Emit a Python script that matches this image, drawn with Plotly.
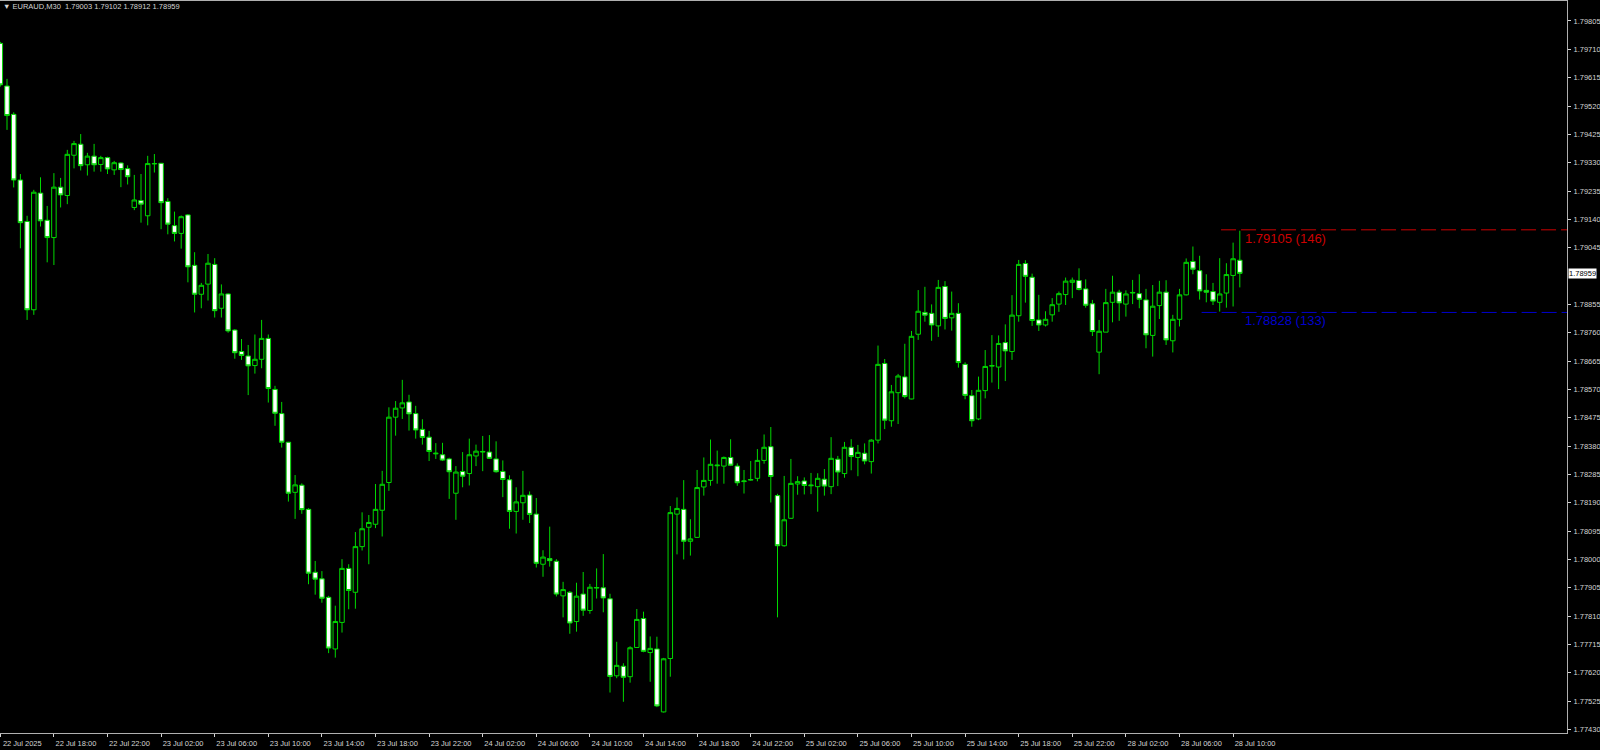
import plotly.graph_objects as go

# ---------------- data (EURAUD M30) ----------------
opens = [
    1.79730, 1.79587, 1.79492, 1.79272, 1.79133, 1.78837, 1.79228, 1.79137, 1.79079, 1.79248,
    1.79220, 1.79355, 1.79392, 1.79323, 1.79352, 1.79324, 1.79347, 1.79306, 1.79329, 1.79310,
    1.79180, 1.79203, 1.79152, 1.79326, 1.79328, 1.79200, 1.79119, 1.79093, 1.79155, 1.78986,
    1.78889, 1.78923, 1.78989, 1.78842, 1.78890, 1.78769, 1.78697, 1.78682, 1.78650, 1.78671,
    1.78741, 1.78570, 1.78489, 1.78393, 1.78225, 1.78249, 1.78168, 1.77957, 1.77935, 1.77873,
    1.77700, 1.77789, 1.77970, 1.77890, 1.78043, 1.78108, 1.78118, 1.78165, 1.78258, 1.78477,
    1.78508, 1.78528, 1.78489, 1.78436, 1.78410, 1.78354, 1.78351, 1.78337, 1.78222, 1.78295,
    1.78288, 1.78347, 1.78360, 1.78360, 1.78337, 1.78295, 1.78267, 1.78161, 1.78190, 1.78216,
    1.78152, 1.77984, 1.78003, 1.77994, 1.77878, 1.77890, 1.77792, 1.77884, 1.77829, 1.77904,
    1.77905, 1.77868, 1.77610, 1.77642, 1.77607, 1.77705, 1.77802, 1.77688, 1.77700, 1.77489,
    1.77668, 1.78152, 1.78168, 1.78061, 1.78074, 1.78243, 1.78265, 1.78314, 1.78313, 1.78342,
    1.78313, 1.78261, 1.78266, 1.78272, 1.78332, 1.78378, 1.78214, 1.78046, 1.78138, 1.78253,
    1.78263, 1.78247, 1.78244, 1.78269, 1.78244, 1.78336, 1.78288, 1.78376, 1.78342, 1.78356,
    1.78328, 1.78400, 1.78657, 1.78465, 1.78559, 1.78612, 1.78538, 1.78755, 1.78828, 1.78825,
    1.78783, 1.78915, 1.78810, 1.78825, 1.78654, 1.78549, 1.78471, 1.78566, 1.78648, 1.78645,
    1.78727, 1.78697, 1.78817, 1.78992, 1.78946, 1.78803, 1.78786, 1.78820, 1.78856, 1.78888,
    1.78929, 1.78935, 1.78907, 1.78857, 1.78695, 1.78762, 1.78862, 1.78896, 1.78856, 1.78893,
    1.78891, 1.78870, 1.78751, 1.78851, 1.78896, 1.78733, 1.78805, 1.78887, 1.78999, 1.78968,
    1.78902, 1.78898, 1.78862, 1.78893, 1.78952, 1.79003,
]
highs = [
    1.79735, 1.79611, 1.79499, 1.79292, 1.79152, 1.79239, 1.79281, 1.79185, 1.79295, 1.79279,
    1.79373, 1.79403, 1.79426, 1.79363, 1.79393, 1.79353, 1.79350, 1.79336, 1.79331, 1.79321,
    1.79289, 1.79292, 1.79353, 1.79359, 1.79329, 1.79211, 1.79166, 1.79153, 1.79158, 1.79030,
    1.78927, 1.79024, 1.79010, 1.78922, 1.78892, 1.78772, 1.78739, 1.78719, 1.78754, 1.78803,
    1.78754, 1.78582, 1.78528, 1.78394, 1.78283, 1.78255, 1.78172, 1.77995, 1.77961, 1.77878,
    1.77845, 1.78001, 1.77984, 1.78092, 1.78158, 1.78149, 1.78253, 1.78297, 1.78510, 1.78531,
    1.78602, 1.78552, 1.78515, 1.78470, 1.78431, 1.78390, 1.78391, 1.78341, 1.78313, 1.78360,
    1.78405, 1.78385, 1.78414, 1.78417, 1.78396, 1.78332, 1.78282, 1.78242, 1.78297, 1.78228,
    1.78206, 1.78031, 1.78110, 1.78001, 1.77925, 1.77894, 1.77922, 1.77958, 1.77918, 1.77970,
    1.78018, 1.77885, 1.77724, 1.77652, 1.77709, 1.77834, 1.77825, 1.77742, 1.77741, 1.77670,
    1.78179, 1.78208, 1.78266, 1.78135, 1.78300, 1.78342, 1.78402, 1.78365, 1.78345, 1.78403,
    1.78322, 1.78300, 1.78330, 1.78370, 1.78419, 1.78444, 1.78220, 1.78280, 1.78337, 1.78279,
    1.78275, 1.78290, 1.78289, 1.78303, 1.78410, 1.78347, 1.78394, 1.78403, 1.78384, 1.78389,
    1.78403, 1.78717, 1.78672, 1.78585, 1.78622, 1.78723, 1.78766, 1.78903, 1.78914, 1.78855,
    1.78937, 1.78933, 1.78898, 1.78859, 1.78661, 1.78568, 1.78613, 1.78702, 1.78752, 1.78751,
    1.78788, 1.78886, 1.79004, 1.79003, 1.78958, 1.78887, 1.78832, 1.78876, 1.78898, 1.78945,
    1.78945, 1.78976, 1.78939, 1.78870, 1.78803, 1.78907, 1.78951, 1.78904, 1.78902, 1.78937,
    1.78956, 1.78907, 1.78920, 1.78934, 1.78936, 1.78820, 1.78907, 1.79009, 1.79049, 1.79018,
    1.78956, 1.78927, 1.79010, 1.78993, 1.79062, 1.79102,
]
lows = [
    1.79585, 1.79440, 1.79247, 1.79043, 1.78803, 1.78820, 1.79116, 1.78996, 1.78987, 1.79180,
    1.79191, 1.79311, 1.79304, 1.79287, 1.79300, 1.79300, 1.79292, 1.79289, 1.79248, 1.79257,
    1.79171, 1.79129, 1.79120, 1.79297, 1.79107, 1.79090, 1.79066, 1.79042, 1.78929, 1.78828,
    1.78842, 1.78868, 1.78811, 1.78811, 1.78760, 1.78673, 1.78669, 1.78551, 1.78623, 1.78641,
    1.78526, 1.78448, 1.78375, 1.78194, 1.78136, 1.78153, 1.77917, 1.77882, 1.77855, 1.77686,
    1.77671, 1.77755, 1.77833, 1.77835, 1.78030, 1.77984, 1.78105, 1.78077, 1.78230, 1.78415,
    1.78471, 1.78432, 1.78405, 1.78385, 1.78330, 1.78337, 1.78330, 1.78203, 1.78133, 1.78242,
    1.78248, 1.78313, 1.78296, 1.78337, 1.78291, 1.78209, 1.78103, 1.78087, 1.78133, 1.78122,
    1.77973, 1.77942, 1.77976, 1.77876, 1.77806, 1.77751, 1.77758, 1.77811, 1.77818, 1.77869,
    1.77823, 1.77554, 1.77602, 1.77523, 1.77587, 1.77704, 1.77689, 1.77590, 1.77505, 1.77487,
    1.77607, 1.78017, 1.78000, 1.78013, 1.78073, 1.78214, 1.78247, 1.78254, 1.78254, 1.78313,
    1.78247, 1.78221, 1.78264, 1.78262, 1.78321, 1.78191, 1.77806, 1.78043, 1.78136, 1.78217,
    1.78218, 1.78219, 1.78160, 1.78214, 1.78219, 1.78246, 1.78274, 1.78299, 1.78279, 1.78319,
    1.78288, 1.78389, 1.78437, 1.78445, 1.78454, 1.78540, 1.78537, 1.78736, 1.78797, 1.78733,
    1.78746, 1.78771, 1.78767, 1.78643, 1.78537, 1.78445, 1.78467, 1.78540, 1.78593, 1.78571,
    1.78598, 1.78669, 1.78797, 1.78861, 1.78783, 1.78766, 1.78781, 1.78797, 1.78830, 1.78853,
    1.78876, 1.78902, 1.78844, 1.78749, 1.78621, 1.78762, 1.78795, 1.78800, 1.78814, 1.78856,
    1.78842, 1.78708, 1.78680, 1.78806, 1.78719, 1.78694, 1.78781, 1.78885, 1.78956, 1.78871,
    1.78862, 1.78853, 1.78831, 1.78844, 1.78848, 1.78912,
]
closes = [
    1.79591, 1.79488, 1.79272, 1.79129, 1.78837, 1.79231, 1.79135, 1.79079, 1.79248, 1.79222,
    1.79358, 1.79394, 1.79320, 1.79352, 1.79323, 1.79347, 1.79309, 1.79330, 1.79307, 1.79283,
    1.79205, 1.79191, 1.79327, 1.79327, 1.79196, 1.79124, 1.79093, 1.79149, 1.78981, 1.78889,
    1.78919, 1.78993, 1.78834, 1.78890, 1.78766, 1.78693, 1.78684, 1.78649, 1.78671, 1.78741,
    1.78573, 1.78490, 1.78393, 1.78222, 1.78250, 1.78167, 1.77954, 1.77934, 1.77870, 1.77703,
    1.77792, 1.77970, 1.77896, 1.78043, 1.78103, 1.78124, 1.78168, 1.78252, 1.78477, 1.78507,
    1.78525, 1.78488, 1.78434, 1.78409, 1.78362, 1.78356, 1.78333, 1.78294, 1.78293, 1.78279,
    1.78351, 1.78363, 1.78362, 1.78339, 1.78294, 1.78268, 1.78161, 1.78193, 1.78215, 1.78151,
    1.77987, 1.78008, 1.77996, 1.77884, 1.77899, 1.77787, 1.77877, 1.77830, 1.77907, 1.77906,
    1.77871, 1.77608, 1.77645, 1.77605, 1.77704, 1.77799, 1.77692, 1.77702, 1.77509, 1.77667,
    1.78157, 1.78171, 1.78061, 1.78069, 1.78241, 1.78265, 1.78319, 1.78316, 1.78342, 1.78316,
    1.78257, 1.78263, 1.78268, 1.78332, 1.78376, 1.78278, 1.78046, 1.78133, 1.78255, 1.78261,
    1.78248, 1.78249, 1.78272, 1.78246, 1.78339, 1.78293, 1.78376, 1.78345, 1.78359, 1.78330,
    1.78400, 1.78654, 1.78467, 1.78562, 1.78615, 1.78546, 1.78748, 1.78832, 1.78819, 1.78786,
    1.78912, 1.78808, 1.78825, 1.78660, 1.78550, 1.78465, 1.78567, 1.78647, 1.78650, 1.78724,
    1.78699, 1.78819, 1.78989, 1.78949, 1.78801, 1.78786, 1.78805, 1.78854, 1.78891, 1.78933,
    1.78936, 1.78905, 1.78852, 1.78764, 1.78765, 1.78861, 1.78896, 1.78860, 1.78890, 1.78895,
    1.78872, 1.78753, 1.78849, 1.78896, 1.78736, 1.78805, 1.78887, 1.78996, 1.78973, 1.78900,
    1.78896, 1.78866, 1.78890, 1.78955, 1.79008, 1.78959,
]

time_labels = [
    "22 Jul 2025", "22 Jul 18:00", "22 Jul 22:00", "23 Jul 02:00", "23 Jul 06:00",
    "23 Jul 10:00", "23 Jul 14:00", "23 Jul 18:00", "23 Jul 22:00", "24 Jul 02:00",
    "24 Jul 06:00", "24 Jul 10:00", "24 Jul 14:00", "24 Jul 18:00", "24 Jul 22:00",
    "25 Jul 02:00", "25 Jul 06:00", "25 Jul 10:00", "25 Jul 14:00", "25 Jul 18:00",
    "25 Jul 22:00", "28 Jul 02:00", "28 Jul 06:00", "28 Jul 10:00",
]
bars_per_time_label = 8

price_tick_labels = [
    "1.79805", "1.79710", "1.79615", "1.79520", "1.79425", "1.79330", "1.79235",
    "1.79140", "1.79045", "1.78855", "1.78760", "1.78665", "1.78570", "1.78475",
    "1.78380", "1.78285", "1.78190", "1.78095", "1.78000", "1.77905", "1.77810",
    "1.77715", "1.77620", "1.77525", "1.77430",
]

symbol_text = "EURAUD,M30"
last_ohlc = ["1.79003", "1.79102", "1.78912", "1.78959"]
current_price = 1.78959

level_values = [1.79105, 1.78828]
level_texts = ["1.79105 (146)", "1.78828 (133)"]
level_start_bars = [182.2, 179.3]

# ---------------- layout constants ----------------
W, H = 1600, 750
M_L, M_R, M_T, M_B = 0, 33, 1, 17
PX_PER_BAR = 6.7
plot_w = W - M_L - M_R
x0 = -0.045
x_range = [x0, x0 + plot_w / PX_PER_BAR]
y_range = [1.774183, 1.798720]

FG = "#d4d4d4"
FRAME = "#b0b0b0"
CANDLE = "#00d800"
LEVEL_COLORS = ["#cc0000", "#0000cc"]
FONT = "Liberation Sans"

bars = list(range(len(opens)))

fig = go.Figure()
fig.add_trace(go.Candlestick(
    x=bars, open=opens, high=highs, low=lows, close=closes,
    increasing=dict(line=dict(color=CANDLE, width=1), fillcolor="#000000"),
    decreasing=dict(line=dict(color=CANDLE, width=1), fillcolor="#ffffff"),
    whiskerwidth=0, hoverinfo="skip", showlegend=False,
))

for val, start, col in zip(level_values, level_start_bars, LEVEL_COLORS):
    fig.add_trace(go.Scatter(
        x=[start, x_range[1] + 5], y=[val, val], mode="lines",
        line=dict(color=col, width=1, dash="15px,5px"),
        hoverinfo="skip", showlegend=False,
    ))

annotations = []
for val, txt, col in zip(level_values, level_texts, LEVEL_COLORS):
    annotations.append(dict(
        x=185.5, y=val, xref="x", yref="y", text=txt, showarrow=False,
        xanchor="left", yanchor="top", yshift=1,
        font=dict(family=FONT, size=13, color=col),
    ))

annotations.append(dict(
    x=0, y=1, xref="paper", yref="paper", xanchor="left", yanchor="top",
    xshift=1, yshift=1,
    text="▼ " + symbol_text + "&nbsp;&nbsp;" + " ".join(last_ohlc),
    showarrow=False, font=dict(family=FONT, size=7.5, color=FG),
))

annotations.append(dict(
    x=1, y=current_price, xref="paper", yref="y", xanchor="left", yanchor="middle",
    xshift=1, text=f"{current_price:.5f}", showarrow=False,
    bgcolor="#ffffff", borderpad=0,
    font=dict(family=FONT, size=7.5, color="#000000"),
))

fig.update_layout(
    width=W, height=H,
    margin=dict(l=M_L, r=M_R, t=M_T, b=M_B),
    paper_bgcolor="#000000", plot_bgcolor="#000000",
    boxgap=0.33, boxgroupgap=0,
    showlegend=False,
    annotations=annotations,
    xaxis=dict(
        range=x_range, rangeslider=dict(visible=False),
        showgrid=False, zeroline=False,
        showline=True, linecolor=FRAME, linewidth=1, mirror=True,
        tickmode="array",
        tickvals=[i * bars_per_time_label for i in range(len(time_labels))],
        ticktext=time_labels,
        ticks="outside", ticklen=3, tickcolor=FG, tickwidth=1,
        ticklabelshift=22, ticklabelstandoff=0,
        tickfont=dict(family=FONT, size=7.5, color=FG),
        tickangle=0, fixedrange=True,
    ),
    yaxis=dict(
        range=y_range, side="right",
        showgrid=False, zeroline=False,
        showline=True, linecolor=FRAME, linewidth=1, mirror=False,
        tickmode="array",
        tickvals=[float(t) for t in price_tick_labels],
        ticktext=price_tick_labels,
        ticks="outside", ticklen=3, tickcolor=FG, tickwidth=1,
        ticklabelstandoff=1,
        tickfont=dict(family=FONT, size=7.5, color=FG),
        fixedrange=True,
    ),
)

fig.write_html(
    "out.html",
    config={"displayModeBar": False, "staticPlot": True},
    post_script=(
        "document.body.style.margin='0';"
        "document.body.style.padding='0';"
        "document.body.style.overflow='hidden';"
        "document.body.style.background='#000';"
    ),
)
